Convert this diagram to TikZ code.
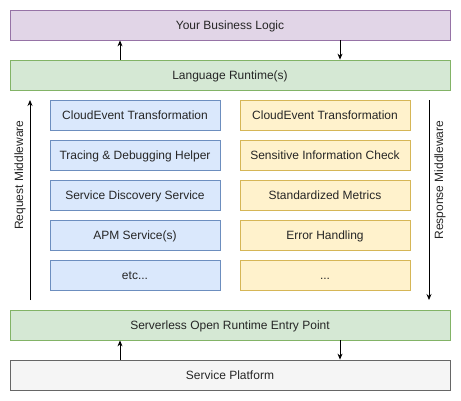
\documentclass[tikz,border=0pt]{standalone}
\usepackage{fontspec}
\setmainfont{Liberation Sans}
\usetikzlibrary{arrows.meta}
\definecolor{purF}{HTML}{E1D5E7}\definecolor{purD}{HTML}{9673A6}
\definecolor{grnF}{HTML}{D5E8D4}\definecolor{grnD}{HTML}{82B366}
\definecolor{bluF}{HTML}{DAE8FC}\definecolor{bluD}{HTML}{6C8EBF}
\definecolor{yelF}{HTML}{FFF2CC}\definecolor{yelD}{HTML}{D6B656}
\definecolor{gryF}{HTML}{F5F5F5}\definecolor{gryD}{HTML}{666666}
\begin{document}
\begin{tikzpicture}[x=1pt,y=-1pt,
  every node/.style={font=\fontsize{12}{14}\selectfont, text=black!85, inner sep=0pt},
  boxtext/.style={text height=11.5pt, text depth=2pt},
  wide/.style={draw, boxtext, line width=0.8pt, minimum width=440pt, minimum height=30pt},
  mid/.style={draw, boxtext, line width=0.8pt, minimum width=170pt, minimum height=30pt},
  purbox/.style={wide, fill=purF, draw=purD},
  grnbox/.style={wide, fill=grnF, draw=grnD},
  grybox/.style={wide, fill=gryF, draw=gryD},
  blubox/.style={mid, fill=bluF, draw=bluD},
  yelbox/.style={mid, fill=yelF, draw=yelD},
  arr/.style={-{Stealth[length=6pt,width=5pt]}, line width=0.8pt}]
\useasboundingbox (0,0) rectangle (461,400);
\node[purbox] (biz) at (230,25) {Your Business Logic};
\node[grnbox] (lang) at (230,75) {Language Runtime(s)};
\node[blubox] (l1) at (135,115) {CloudEvent Transformation};
\node[blubox] (l2) at (135,155) {Tracing \& Debugging Helper};
\node[blubox] (l3) at (135,195) {Service Discovery Service};
\node[blubox] (l4) at (135,235) {APM Service(s)};
\node[blubox] (l5) at (135,275) {etc...};
\node[yelbox] (r1) at (325,115) {CloudEvent Transformation};
\node[yelbox] (r2) at (325,155) {Sensitive Information Check};
\node[yelbox] (r3) at (325,195) {Standardized Metrics};
\node[yelbox] (r4) at (325,235) {Error Handling};
\node[yelbox] (r5) at (325,275) {...};
\node[grnbox] (entry) at (230,325) {Serverless Open Runtime Entry Point};
\node[grybox] (plat) at (230,375) {Service Platform};
\coordinate (reqB) at (30,300);
\coordinate (reqT) at (30,100);
\coordinate (resT) at (429,100);
\coordinate (resB) at (429,300);
\coordinate (xa) at (120,0);
\coordinate (xb) at (340,0);
\draw[arr] (reqB) -- (reqT);
\node[rotate=90] (reqlabel) at (20,175) {Request Middleware};
\draw[arr] (resT) -- (resB);
\node[rotate=90] (reslabel) at (440,180) {Response Middleware};
\draw[arr] (lang.north -| xa) -- (biz.south -| xa);
\draw[arr] (biz.south -| xb) -- (lang.north -| xb);
\draw[arr] (plat.north -| xa) -- (entry.south -| xa);
\draw[arr] (entry.south -| xb) -- (plat.north -| xb);
\end{tikzpicture}
\end{document}
